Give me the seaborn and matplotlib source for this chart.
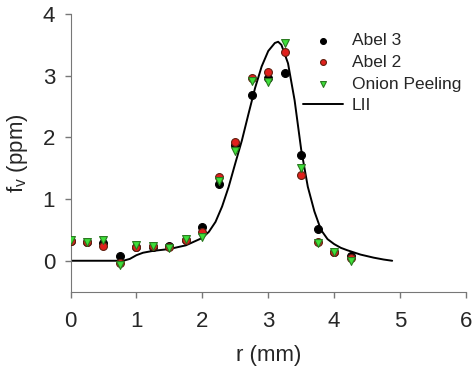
import numpy as np
import pandas as pd
import matplotlib
matplotlib.use("Agg")
import matplotlib.pyplot as plt
import seaborn as sns

# radial positions of the reconstructed points (mm)
r_pts = [0, 0.25, 0.5, 0.75, 1.0, 1.25, 1.5, 1.75, 2.0, 2.25, 2.5, 2.75,
         3.0, 3.25, 3.5, 3.75, 4.0, 4.25]
abel3 = [0.32, 0.30, 0.28, 0.08, 0.22, 0.23, 0.24, 0.33, 0.55, 1.24, 1.88, 2.68,
         2.96, 3.04, 1.71, 0.51, 0.14, 0.08]
abel2 = [0.32, 0.30, 0.24, -0.03, 0.23, 0.24, 0.22, 0.34, 0.46, 1.36, 1.93, 2.97,
         3.06, 3.38, 1.39, 0.30, 0.14, 0.04]
onion = [0.33, 0.31, 0.33, -0.07, 0.26, 0.24, 0.20, 0.36, 0.39, 1.30, 1.78, 2.91,
         2.90, 3.53, 1.50, 0.29, 0.14, 0.00]

# LII profile
r_lii = [0, 0.8, 0.9, 1.0, 1.1, 1.25, 1.5, 1.75, 2.0, 2.1, 2.2, 2.3, 2.4, 2.5,
         2.6, 2.7, 2.8, 2.9, 3.0, 3.1, 3.15, 3.2, 3.3, 3.4, 3.5, 3.6, 3.7, 3.8,
         3.9, 4.0, 4.1, 4.2, 4.4, 4.6, 4.75, 4.88]
lii = [0, 0, 0.03, 0.09, 0.13, 0.16, 0.19, 0.25, 0.37, 0.47, 0.63, 0.88, 1.2,
       1.58, 1.95, 2.38, 2.8, 3.15, 3.4, 3.53, 3.55, 3.5, 3.2, 2.6, 1.8, 1.2,
       0.8, 0.5, 0.35, 0.27, 0.21, 0.17, 0.1, 0.05, 0.02, 0.0]

sns.set_style("ticks")
plt.rcParams['font.family'] = ['Liberation Sans', 'DejaVu Sans']
plt.rcParams['mathtext.fontset'] = 'custom'
plt.rcParams['mathtext.rm'] = 'Liberation Sans'

W, H = 474, 368
fig = plt.figure(figsize=(W / 100, H / 100), dpi=100)
# axes box in pixels: x 70.5..466, y 14 (value 4) .. 291.6 (value -0.5)
ax = fig.add_axes([70.5 / W, 1 - 291.6 / H, (466 - 70.5) / W, (291.6 - 14) / H])

series = [
    ("Abel 3", abel3, "o", "black", "black"),
    ("Abel 2", abel2, "o", "#e0201c", "#602010"),
    ("Onion Peeling", onion, "v", "#3ee03a", "#2a7a20"),
]
for name, vals, mk, fc, ec in series:
    df = pd.DataFrame({"r": r_pts, "fv": vals})
    sns.scatterplot(data=df, x="r", y="fv", marker=mk, color=fc, edgecolor=ec,
                    linewidth=0.8, s=32, ax=ax, label=name, zorder=3)

sns.lineplot(x=r_lii, y=lii, color="black", linewidth=1.4, ax=ax, label="LII",
             zorder=2)

ax.set_xlim(0, 6)
ax.set_ylim(-0.5, 4)
ax.set_xticks(range(0, 7))
ax.set_yticks(range(0, 5))
ax.set_xlabel("r (mm)", fontsize=16, labelpad=9)
ax.set_ylabel("f$_\\mathrm{v}$ (ppm)", fontsize=16, labelpad=9)
ax.tick_params(labelsize=16, direction="out", length=4, color="#777777", width=1)
ax.tick_params(axis="x", pad=10)
ax.tick_params(axis="y", pad=7)
for side in ["left", "bottom"]:
    ax.spines[side].set_color("#777777")
sns.despine(ax=ax)

ax.legend(loc="upper left", frameon=False, fontsize=12.5, handlelength=2.3,
          handletextpad=0.5, markerscale=0.75, borderpad=0, borderaxespad=0,
          labelspacing=0.38, bbox_to_anchor=(303 / W, 1 - 33 / H),
          bbox_transform=fig.transFigure)

fig.savefig("out.png", dpi=100)
